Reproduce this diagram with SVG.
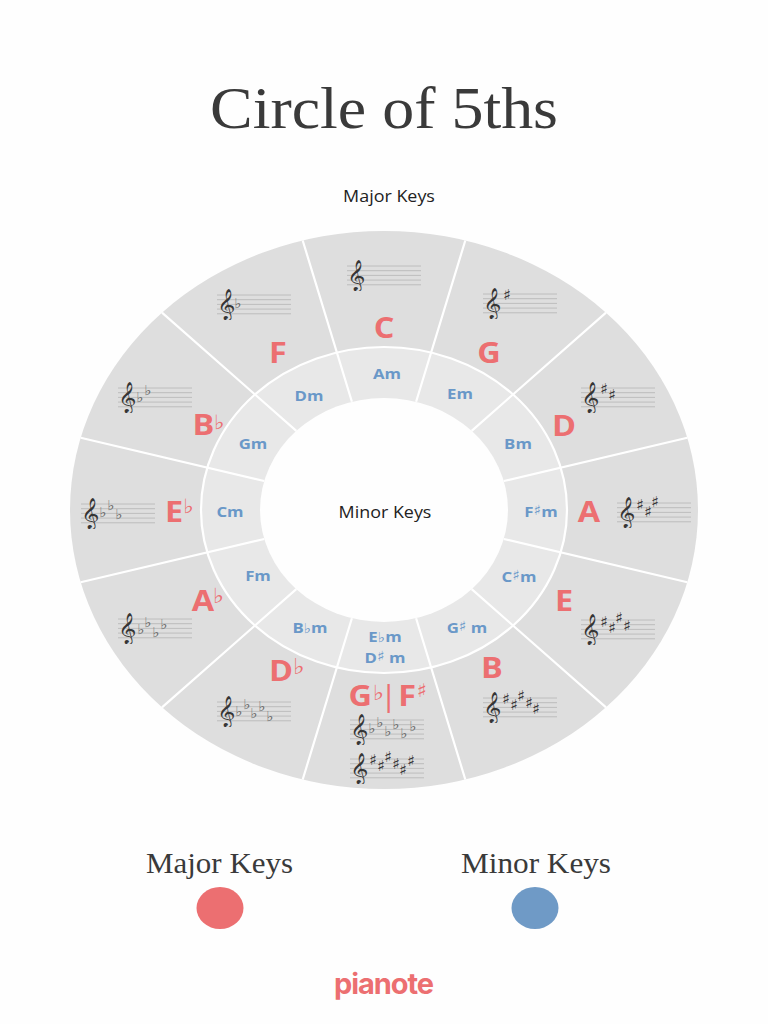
<svg xmlns="http://www.w3.org/2000/svg" width="768" height="1024" viewBox="0 0 768 1024">
<style>
.title{font-family:"Liberation Serif","DejaVu Serif",serif;fill:#3a3a3a}
.cap,.maj,.min,.acc{text-anchor:middle;transform-box:fill-box;transform-origin:center;transform:scaleX(1.12)}
.cap{font-family:"Open Sans","Noto Sans",sans-serif;font-size:16px;fill:#222}
.maj,.gf{font-family:"Open Sans","Noto Sans",sans-serif;font-weight:700;font-size:29px;fill:#ec6f71}
.min{font-family:"Open Sans","Noto Sans",sans-serif;font-weight:700;font-size:15px;fill:#6a98c8}
.ac{font-family:"DejaVu Sans",sans-serif;font-weight:400;font-size:14px}
.acc{font-family:"DejaVu Sans",sans-serif;font-size:15px;fill:#333;opacity:.99}
.fl{fill:#666;font-size:14px}
.clef{font-family:"DejaVu Sans","Noto Sans",sans-serif;font-size:26px;fill:#333;transform-box:fill-box;transform-origin:left center;transform:scaleX(1.2)}
.sep{stroke:#fff;stroke-width:2.2;fill:none}
.staff{opacity:.99}
.staff line{stroke:#b9b9b9;stroke-width:.9}
</style>
<defs>
<g id="staff" class="staff">
<line x1="0" x2="74" y1="0" y2="0"/><line x1="0" x2="74" y1="4.7" y2="4.7"/><line x1="0" x2="74" y1="9.4" y2="9.4"/><line x1="0" x2="74" y1="14.1" y2="14.1"/><line x1="0" x2="74" y1="18.8" y2="18.8"/>
<text class="clef" x="0" y="17.6">𝄞</text>
</g>
</defs>
<rect width="768" height="1024" fill="#fefefe"/>
<text class="title" x="210" y="128" font-size="60" textLength="348" lengthAdjust="spacingAndGlyphs">Circle of 5ths</text>
<text class="cap" x="389" y="202">Major Keys</text>
<g id="wheel">
<ellipse cx="384" cy="510" rx="314" ry="279" fill="#dedede"/>
<ellipse cx="384" cy="510" rx="183" ry="163" fill="#e8e8e8" stroke="#fff" stroke-width="2.2"/>
<ellipse cx="384" cy="510" rx="124" ry="112" fill="#fefefe"/>
</g>
<g id="connectors">
<path class="sep" d="M416.1 401.8L465.3 240.5M471.7 430.8L606 312.7M503.8 481L687.3 437.8M503.8 539L687.3 582.2M471.7 589.2L606 707.3M416.1 618.2L465.3 779.5M351.9 618.2L302.7 779.5M296.3 589.2L162 707.3M264.2 539L80.7 582.2M264.2 481L80.7 437.8M296.3 430.8L162 312.7M351.9 401.8L302.7 240.5"/>
</g>
<text class="cap" x="385" y="518">Minor Keys</text>
<g id="key-C"><text class="maj" x="384" y="338">C</text><use href="#staff" x="347" y="266"/><text class="min" x="387" y="379">Am</text></g>
<g id="key-G"><text class="maj" x="489" y="363">G</text><use href="#staff" x="483" y="294"/><text class="acc" x="507" y="300">♯</text><text class="min" x="460" y="399">Em</text></g>
<g id="key-D"><text class="maj" x="564" y="436">D</text><use href="#staff" x="581" y="388"/><text class="acc" x="604" y="394">♯</text><text class="acc" x="612" y="400">♯</text><text class="min" x="518" y="449">Bm</text></g>
<g id="key-A"><text class="maj" x="589" y="522">A</text><use href="#staff" x="617" y="503"/><text class="acc" x="640" y="510">♯</text><text class="acc" x="648" y="517">♯</text><text class="acc" x="655" y="507">♯</text><text class="min" x="541" y="517">F<tspan class="ac" dy="-2">♯</tspan><tspan dy="2">m</tspan></text></g>
<g id="key-E"><text class="maj" x="564" y="611">E</text><use href="#staff" x="581" y="620"/><text class="acc" x="604" y="627">♯</text><text class="acc" x="612" y="633">♯</text><text class="acc" x="619" y="623">♯</text><text class="acc" x="627" y="631">♯</text><text class="min" x="519" y="582">C<tspan class="ac" dy="-2">♯</tspan><tspan dy="2">m</tspan></text></g>
<g id="key-B"><text class="maj" x="492" y="678">B</text><use href="#staff" x="483" y="698"/><text class="acc" x="506" y="704">♯</text><text class="acc" x="514" y="710">♯</text><text class="acc" x="521" y="701">♯</text><text class="acc" x="529" y="708">♯</text><text class="acc" x="536" y="714">♯</text><text class="min" x="467" y="633">G<tspan class="ac" dy="-2">♯</tspan><tspan dy="2"> m</tspan></text></g>
<g id="key-GbFs"><text class="gf" transform="translate(348.5 706) scale(1.12 1)">G<tspan dx=".7" dy="-6" class="ac" style="font-size:21px">♭</tspan><tspan dx="-3.7" dy="6" style="font-weight:400">|</tspan><tspan dx=".7">F</tspan><tspan dx=".2" dy="-9" class="ac" style="font-size:19px">♯</tspan></text>
<use href="#staff" x="350" y="720"/><text class="acc fl" x="372" y="733">♭</text><text class="acc fl" x="380" y="727">♭</text><text class="acc fl" x="388" y="736">♭</text><text class="acc fl" x="396" y="729">♭</text><text class="acc fl" x="404" y="738">♭</text><text class="acc fl" x="413" y="731">♭</text>
<use href="#staff" x="350" y="759"/><text class="acc" x="373" y="765">♯</text><text class="acc" x="381" y="771">♯</text><text class="acc" x="388" y="762">♯</text><text class="acc" x="396" y="769">♯</text><text class="acc" x="403" y="775">♯</text><text class="acc" x="411" y="766">♯</text>
<text class="min" x="385" y="642">E<tspan class="ac">♭</tspan>m</text><text class="min" x="385" y="663">D<tspan class="ac" dy="-2">♯</tspan><tspan dy="2"> m</tspan></text></g>
<g id="key-Db"><text class="gf" transform="translate(269 681) scale(1.12 1)">D<tspan dx="0" dy="-7" class="ac" style="font-size:22px">♭</tspan></text><use href="#staff" x="217" y="702"/><text class="acc fl" x="239" y="716">♭</text><text class="acc fl" x="247" y="709">♭</text><text class="acc fl" x="254" y="718">♭</text><text class="acc fl" x="262" y="711">♭</text><text class="acc fl" x="270" y="721">♭</text><text class="min" x="310" y="633">B<tspan class="ac">♭</tspan>m</text></g>
<g id="key-Ab"><text class="gf" transform="translate(191.8 611) scale(1.12 1)">A<tspan dx="-1.3" dy="-8" class="ac" style="font-size:21px">♭</tspan></text><use href="#staff" x="118" y="619"/><text class="acc fl" x="141" y="634">♭</text><text class="acc fl" x="148" y="627">♭</text><text class="acc fl" x="156" y="637">♭</text><text class="acc fl" x="164" y="629">♭</text><text class="min" x="258" y="581">Fm</text></g>
<g id="key-Eb"><text class="gf" transform="translate(165 522) scale(1.12 1)">E<tspan dx="-.2" dy="-9" class="ac" style="font-size:20px">♭</tspan></text><use href="#staff" x="81" y="504"/><text class="acc fl" x="103" y="517">♭</text><text class="acc fl" x="111" y="510">♭</text><text class="acc fl" x="119" y="519">♭</text><text class="min" x="230" y="517">Cm</text></g>
<g id="key-Bb"><text class="gf" transform="translate(192.4 435) scale(1.12 1)">B<tspan dx="-.3" dy="-6" class="ac" style="font-size:20px">♭</tspan></text><use href="#staff" x="118" y="388"/><text class="acc fl" x="140" y="402">♭</text><text class="acc fl" x="148" y="395">♭</text><text class="min" x="253" y="449">Gm</text></g>
<g id="key-F"><text class="maj" x="278" y="363">F</text><use href="#staff" x="217" y="295"/><text class="acc fl" x="238" y="308">♭</text><text class="min" x="309" y="401">Dm</text></g>
<g id="legend">
<text class="title" x="146" y="873" font-size="30" textLength="147" lengthAdjust="spacingAndGlyphs">Major Keys</text>
<ellipse cx="220" cy="908" rx="23.5" ry="21" fill="#ec6f71"/>
<text class="title" x="461" y="873" font-size="30" textLength="150" lengthAdjust="spacingAndGlyphs">Minor Keys</text>
<ellipse cx="535" cy="908" rx="23.5" ry="21" fill="#6f9ac6"/>
</g>
<text x="334" y="994" font-family="Inter,Lato,sans-serif" font-weight="700" font-size="29" fill="#ec6f71" textLength="100" lengthAdjust="spacing">pianote</text>
</svg>
